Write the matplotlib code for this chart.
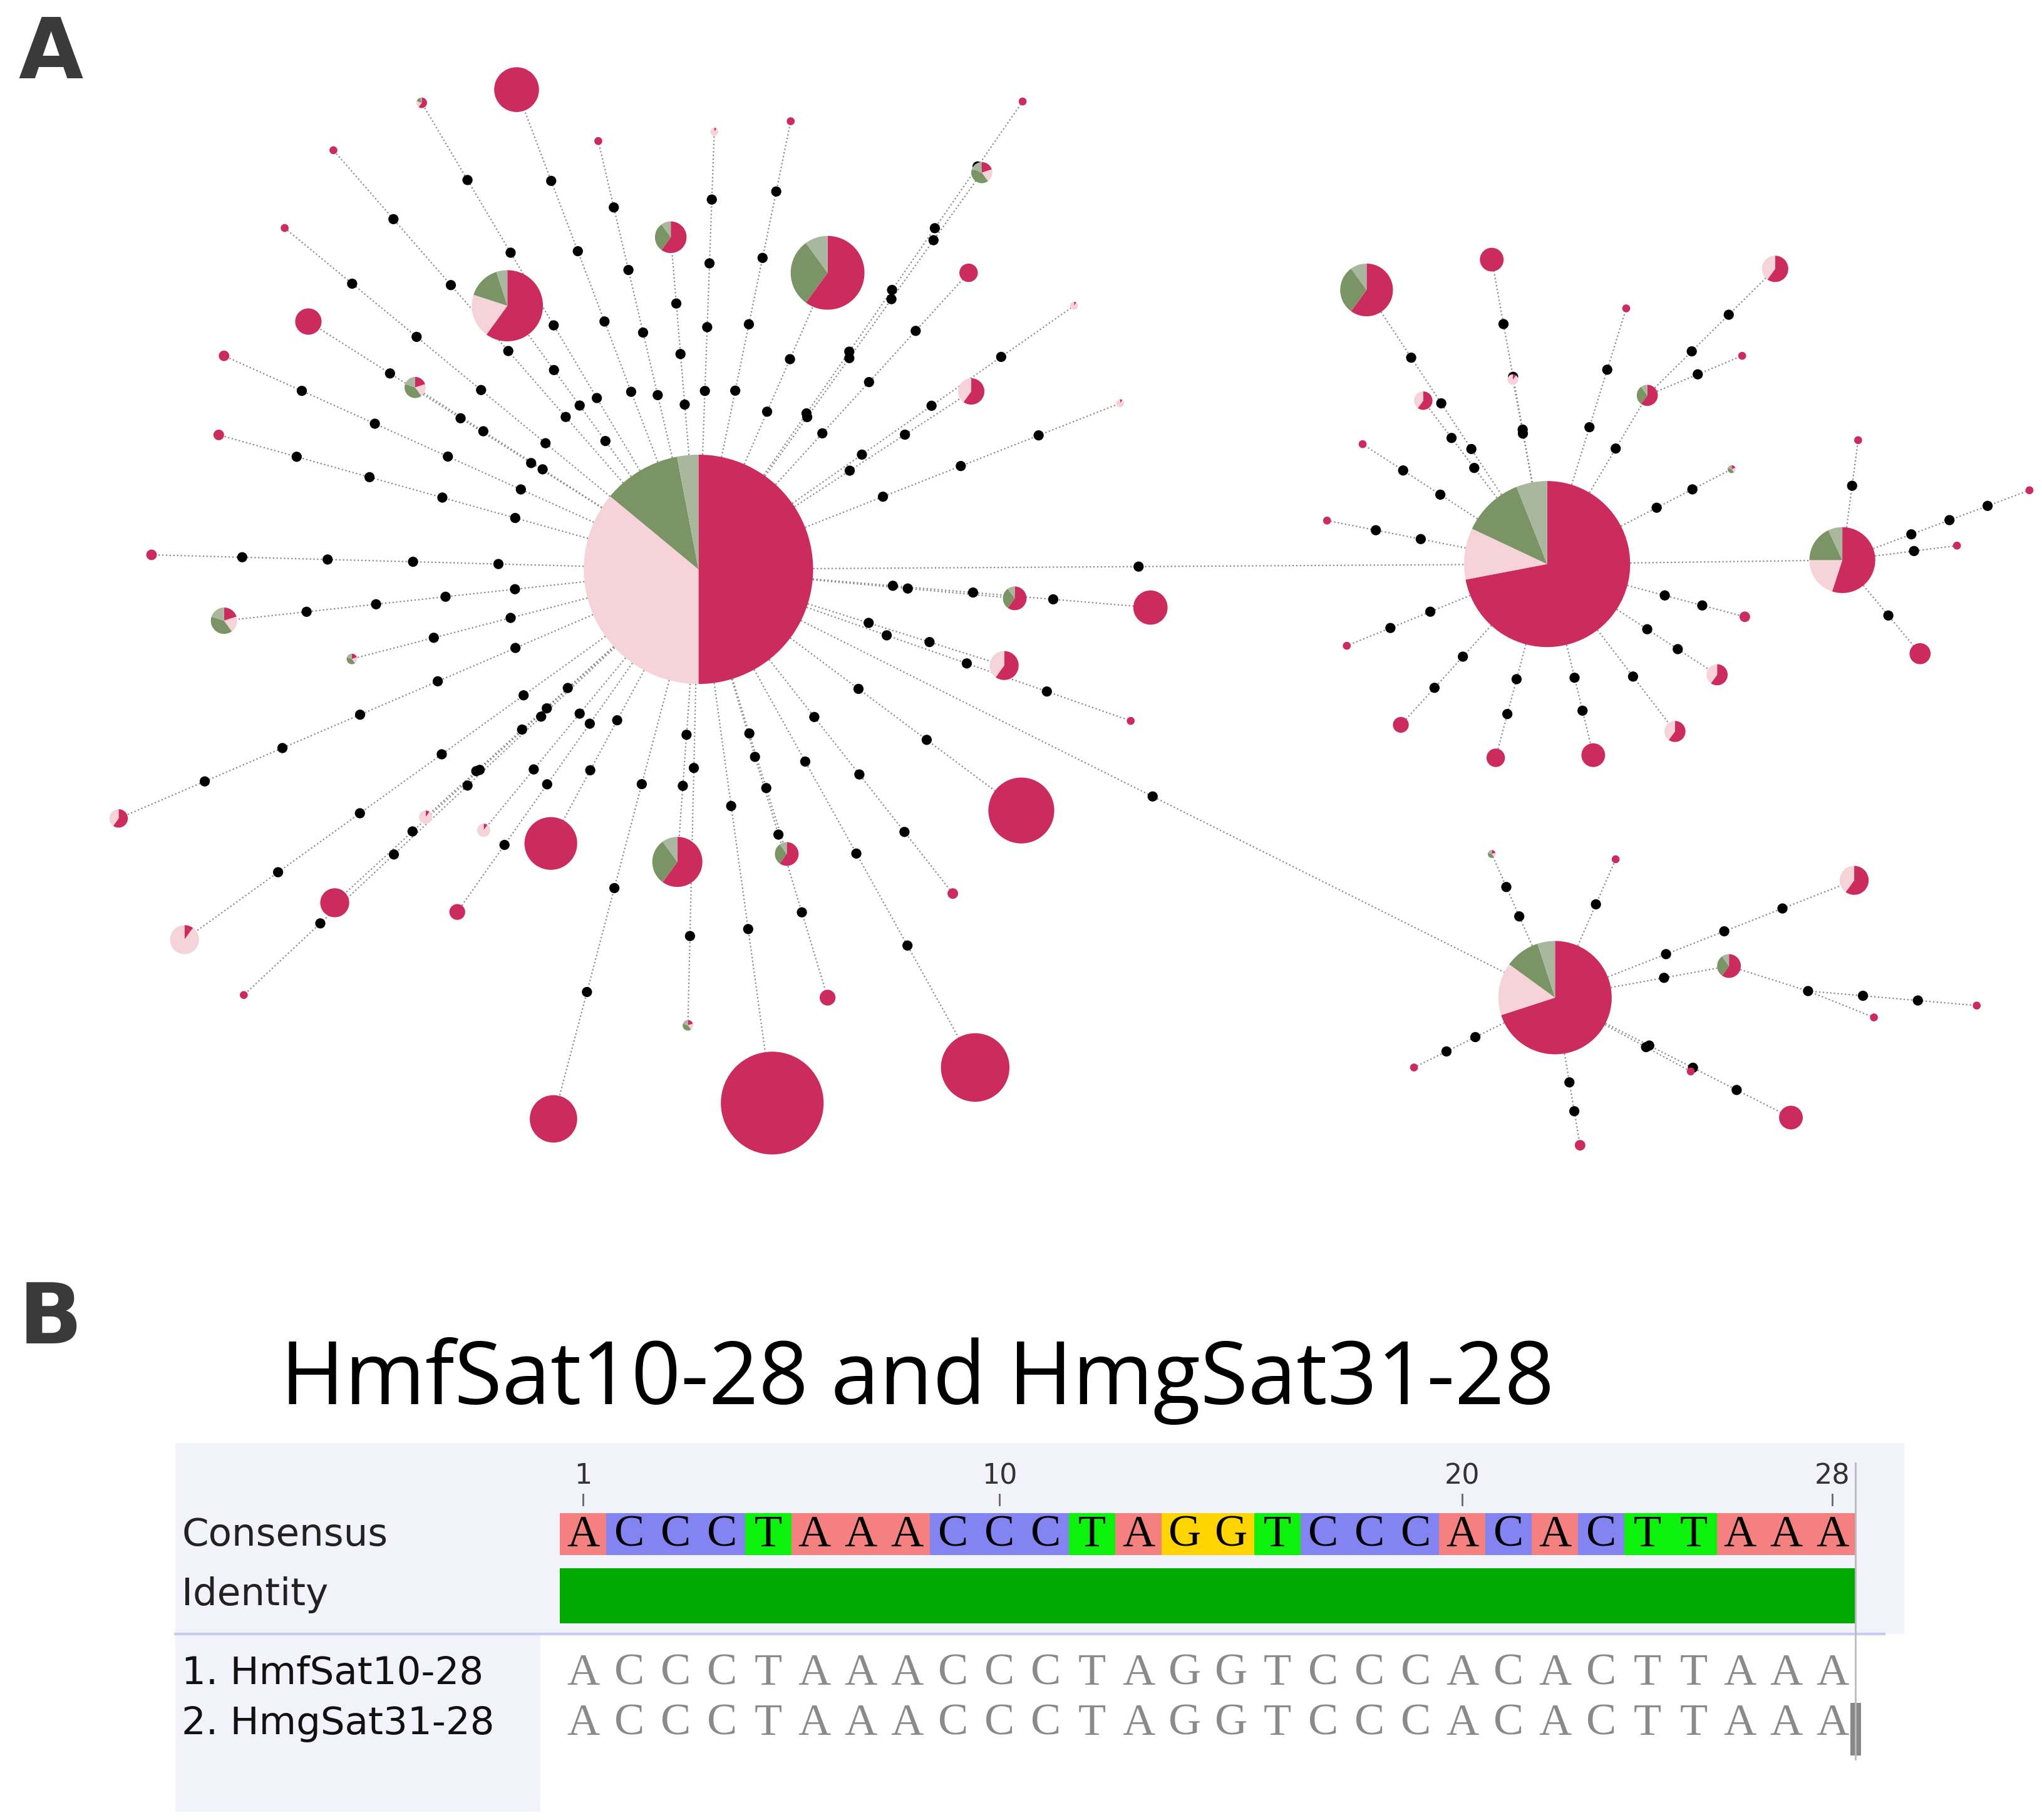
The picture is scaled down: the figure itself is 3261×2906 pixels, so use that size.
import numpy as np
import matplotlib.pyplot as plt
from matplotlib.patches import Wedge, Circle, Rectangle

# pie colours: major, pink, green, light green
PIE_COLORS = ["#cc2b5e", "#f5d3d9", "#7a9466", "#a9b79e"]
KINDS = {
    "c": (1, 0, 0, 0),
    "p": (0.1, 0.9, 0, 0),
    "g": (0.2, 0.2, 0.4, 0.2),
    "cp": (0.6, 0.4, 0, 0),
    "cg": (0.6, 0, 0.3, 0.1),
    "mix": (0.6, 0.2, 0.15, 0.05),
    "hub1": (0.5, 0.36, 0.11, 0.03),
    "hub2": (0.72, 0.10, 0.12, 0.06),
    "hub3": (0.70, 0.15, 0.10, 0.05),
    "hub4": (0.55, 0.20, 0.18, 0.07),
}

# haplotype nodes: name -> (x, y, radius, kind)
nodes = {
    "h1": (530, 432, 87, "hub1"), "h2": (1174, 428, 63, "hub2"),
    "h3": (1180, 757, 43, "hub3"), "h4": (1398, 425, 25, "hub4"),
    "a2": (1250, 300, 8, "cg"), "b3": (1312, 733, 9, "cg"),
    "c3": (1372, 752, 0, "c"),
}

# leaves: (parent, x, y, radius, kind, intermediate black nodes)
leaves = [
    ("h1", 392, 68, 17, "c", 4), ("h1", 320, 78, 4, "mix", 4), ("h1", 385, 232, 27, "mix", 3),
    ("h1", 234, 244, 10, "c", 3), ("h1", 170, 270, 4, "c", 4), ("h1", 166, 330, 4, "c", 4),
    ("h1", 115, 421, 4, "c", 4), ("h1", 170, 471, 10, "g", 4), ("h1", 90, 621, 7, "cp", 5),
    ("h1", 140, 713, 11, "p", 4), ("h1", 185, 755, 3, "c", 4), ("h1", 254, 685, 11, "c", 3),
    ("h1", 347, 692, 6, "c", 3), ("h1", 418, 640, 20, "c", 2), ("h1", 420, 849, 18, "c", 3),
    ("h1", 514, 654, 19, "cg", 2), ("h1", 522, 778, 4, "g", 3), ("h1", 586, 837, 39, "c", 2),
    ("h1", 628, 757, 6, "c", 3), ("h1", 597, 648, 9, "cg", 2), ("h1", 740, 810, 26, "c", 3),
    ("h1", 775, 615, 25, "c", 2), ("h1", 723, 678, 4, "c", 3), ("h1", 762, 505, 11, "cp", 2),
    ("h1", 770, 454, 9, "cg", 1), ("h1", 873, 461, 13, "c", 3), ("h1", 858, 547, 3, "c", 3),
    ("h1", 737, 297, 10, "cp", 2), ("h1", 735, 207, 7, "c", 3), ("h1", 745, 131, 8, "g", 4),
    ("h1", 776, 77, 3, "c", 5), ("h1", 628, 207, 28, "cg", 2), ("h1", 509, 180, 12, "cg", 3),
    ("h1", 315, 294, 8, "g", 2), ("h1", 267, 500, 4, "g", 2), ("h1", 323, 620, 5, "p", 3),
    ("h1", 367, 630, 5, "p", 2), ("h1", 454, 107, 3, "c", 4), ("h1", 600, 92, 3, "c", 4),
    ("h1", 542, 100, 3, "p", 4), ("h1", 216, 173, 3, "c", 4), ("h1", 253, 114, 3, "c", 4),
    ("h1", 850, 306, 3, "p", 3), ("h1", 815, 232, 3, "p", 3),
    ("h2", 1037, 220, 20, "cg", 3), ("h2", 1132, 197, 9, "c", 3), ("a2", 1347, 204, 10, "cp", 2),
    ("h2", 1234, 234, 3, "c", 2), ("h2", 1080, 304, 7, "cp", 2),
    ("h2", 1148, 288, 4, "p", 1), ("h2", 1034, 337, 3, "c", 2), ("h2", 1007, 395, 3, "c", 2),
    ("h2", 1022, 490, 3, "c", 2), ("h2", 1063, 550, 6, "c", 2), ("h2", 1135, 575, 7, "c", 2),
    ("h2", 1209, 573, 9, "c", 2), ("h2", 1271, 555, 8, "cp", 1), ("h2", 1303, 512, 8, "cp", 2),
    ("h2", 1324, 468, 4, "c", 2), ("h2", 1314, 356, 3, "g", 2), ("a2", 1322, 270, 3, "c", 1),
    ("h4", 1410, 334, 3, "c", 1), ("h4", 1457, 496, 8, "c", 1), ("h4", 1540, 372, 3, "c", 3),
    ("h4", 1485, 414, 3, "c", 1),
    ("h3", 1407, 668, 11, "cp", 3), ("c3", 1500, 763, 3, "c", 2),
    ("c3", 1422, 772, 3, "c", 0), ("h3", 1359, 848, 9, "c", 3), ("h3", 1283, 813, 3, "c", 1),
    ("h3", 1199, 869, 4, "c", 2), ("h3", 1073, 810, 3, "c", 2), ("h3", 1132, 648, 3, "g", 2),
    ("h3", 1226, 652, 3, "c", 1),
]

# node-to-node links with intermediate black nodes
links = [("h1", "h2", 1), ("h2", "h4", 0), ("h1", "h3", 1), ("h2", "a2", 1),
         ("h3", "b3", 1), ("b3", "c3", 0)]

consensus = "ACCCTAAACCCTAGGTCCCACACTTAAA"
seq_names = ["1. HmfSat10-28", "2. HmgSat31-28"]
seqs = [consensus, consensus]
ruler = [1, 10, 20, 28]
base_colors = {"A": "#f58080", "C": "#8383f2", "T": "#0cf20c", "G": "#ffd400"}

fig = plt.figure(figsize=(16.31, 14.53), dpi=200)
ax = fig.add_axes([0, 0, 1, 1])
ax.set_xlim(0, 1550)
ax.set_ylim(1381, 0)
ax.axis("off")


def pie(x, y, r, kind, z=3):
    start = -90
    for frac, col in zip(KINDS[kind], PIE_COLORS):
        if frac <= 0:
            continue
        ax.add_patch(Wedge((x, y), r, start, start + frac * 360, color=col, lw=0, zorder=z))
        start += frac * 360


def edge(p, q, n):
    ax.plot([p[0], q[0]], [p[1], q[1]], ls=":", lw=0.8, color="#8a8a8a", zorder=1)
    for t in np.linspace(0, 1, n + 2)[1:-1]:
        ax.add_patch(Circle((p[0] + t * (q[0] - p[0]), p[1] + t * (q[1] - p[1])), 3.2,
                            color="black", zorder=2))


def connect(a, r_a, b, r_b, n):
    d = np.hypot(b[0] - a[0], b[1] - a[1])
    ux, uy = (b[0] - a[0]) / d, (b[1] - a[1]) / d
    edge((a[0] + ux * r_a, a[1] + uy * r_a), (b[0] - ux * r_b, b[1] - uy * r_b), n)


for a, b, n in links:
    A, B = nodes[a], nodes[b]
    connect(A[:2], A[2], B[:2], B[2], n)
for par, x, y, r, kind, n in leaves:
    P = nodes[par]
    connect(P[:2], P[2], (x, y), r, n)
    pie(x, y, r, kind)
for name, (x, y, r, kind) in nodes.items():
    if r == 0:
        ax.add_patch(Circle((x, y), 3.2, color="black", zorder=2))
    else:
        pie(x, y, r, kind, z=4)

# panel labels
ax.text(14, 42, "A", fontsize=48, fontweight="bold", color="#3a3a3a", va="center")
ax.text(14, 1002, "B", fontsize=48, fontweight="bold", color="#3a3a3a", va="center")

# panel B: alignment
ax.text(213, 1048, "HmfSat10-28 and HmgSat31-28", fontsize=50, va="center", ha="left",
        family="Open Sans")
ax.add_patch(Rectangle((133, 1095), 1312, 145, color="#f2f2fb", lw=0, zorder=0))
ax.add_patch(Rectangle((133, 1240), 277, 135, color="#f2f2fb", lw=0, zorder=0))
ax.plot([133, 1430], [1240, 1240], color="#c8cdf0", lw=1.5)

x0, x1 = 425, 1408
w = (x1 - x0) / len(consensus)
for i, b in enumerate(consensus):
    ax.add_patch(Rectangle((x0 + i * w, 1148), w, 32, color=base_colors[b], lw=0))
    ax.text(x0 + (i + 0.5) * w, 1165, b, fontsize=26, ha="center", va="center",
            family="Liberation Serif")
    for k, s in enumerate(seqs):
        ax.text(x0 + (i + 0.5) * w, 1270 + 38 * k, s[i], fontsize=26, ha="center", va="center",
                family="Liberation Serif", color="#8a8a8a")
ax.add_patch(Rectangle((x0, 1190), x1 - x0, 42, color="#00aa00", lw=0))
for p in ruler:
    xp = x0 + (p - 0.5) * w
    ax.plot([xp, xp], [1134, 1142], color="#666666", lw=1)
    ax.text(xp, 1120, str(p), fontsize=16, ha="center", va="center", color="#333333")
ax.plot([x1, x1], [1110, 1335], color="#bbbbbb", lw=1)
ax.add_patch(Rectangle((1404, 1292), 8, 40, color="#888888", lw=0))

for label, y in [("Consensus", 1165), ("Identity", 1210)]:
    ax.text(138, y, label, fontsize=22, va="center", color="#222222")
for k, name in enumerate(seq_names):
    ax.text(138, 1270 + 38 * k, name, fontsize=22, va="center", color="#111111")

fig.savefig("out.png", dpi=200)
